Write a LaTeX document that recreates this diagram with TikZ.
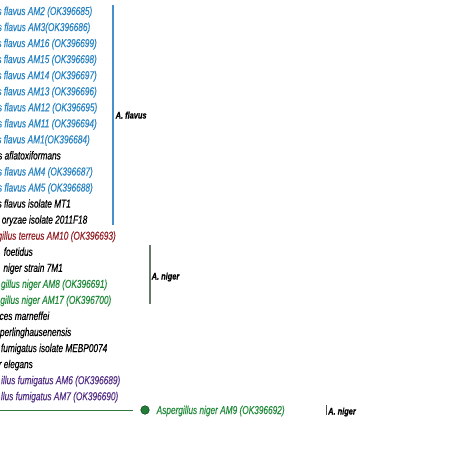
\documentclass[tikz,border=0pt]{standalone}
\usepackage{fontspec}
\newfontfamily\narrowsans{Liberation Sans}[FakeStretch=0.72,FakeBold=0.35]
\newfontfamily\narrowbold{Liberation Sans}[FakeStretch=0.78,FakeBold=0.6]
\definecolor{tblue}{RGB}{40,132,195}
\definecolor{lblue}{RGB}{70,145,205}
\definecolor{tred}{RGB}{150,35,40}
\definecolor{tgreen}{RGB}{35,140,60}
\definecolor{tpurple}{RGB}{85,50,135}
\definecolor{lgrey}{RGB}{105,120,105}
\definecolor{lgreen}{RGB}{45,120,65}
\tikzset{
  taxon/.style={anchor=base east, inner sep=0pt, font=\narrowsans\fontsize{11.5}{11.5}\selectfont\itshape},
  taxonw/.style={taxon, anchor=base west},
  clade/.style={anchor=base west, inner sep=0pt, font=\narrowbold\fontsize{9.5}{9.5}\selectfont\bfseries\itshape, text=black},
}
\begin{document}
\begin{tikzpicture}[x=1pt,y=-1pt]
\useasboundingbox (0,0) rectangle (474,474);
\fill[white] (0,0) rectangle (474,474);
\def\rs{16.05}
\node[taxon,text=tblue] (r1) at (92.5,15) {s flavus AM2 (OK396685)};
\node[taxon,text=tblue] (r2) at (90.5,{15+1*\rs}) {s flavus AM3(OK396686)};
\node[taxon,text=tblue] (r3) at (97,{15+2*\rs}) {s flavus AM16 (OK396699)};
\node[taxon,text=tblue] (r4) at (97,{15+3*\rs}) {s flavus AM15 (OK396698)};
\node[taxon,text=tblue] (r5) at (97,{15+4*\rs}) {s flavus AM14 (OK396697)};
\node[taxon,text=tblue] (r6) at (97,{15+5*\rs}) {s flavus AM13 (OK396696)};
\node[taxon,text=tblue] (r7) at (97.5,{15+6*\rs}) {s flavus AM12 (OK396695)};
\node[taxon,text=tblue] (r8) at (97,{15+7*\rs}) {s flavus AM11 (OK396694)};
\node[taxon,text=tblue] (r9) at (90,{15+8*\rs}) {s flavus AM1(OK396684)};
\node[taxon,text=black] (r10) at (61,{15+9*\rs}) {s aflatoxiformans};
\node[taxon,text=tblue] (r11) at (93,{15+10*\rs}) {s flavus AM4 (OK396687)};
\node[taxon,text=tblue] (r12) at (93,{15+11*\rs}) {s flavus AM5 (OK396688)};
\node[taxon,text=black] (r13) at (71,{15+12*\rs}) {s flavus isolate MT1};
\node[taxon,text=black] (r14) at (87.5,{15+13*\rs}) {s oryzae isolate 2011F18};
\node[taxon,text=tred] (r15) at (116,{15+14*\rs}) {gillus terreus AM10 (OK396693)};
\node[taxon,text=black] (r16) at (33,{15+15*\rs}) {foetidus};
\node[taxon,text=black] (r17) at (63,{15+16*\rs}) {niger strain 7M1};
\node[taxon,text=tgreen] (r18) at (107.5,{15+17*\rs}) {gillus niger AM8 (OK396691)};
\node[taxon,text=tgreen] (r19) at (111.5,{15+18*\rs}) {gillus niger AM17 (OK396700)};
\node[taxon,text=black] (r20) at (49.5,{15+19*\rs}) {ces marneffei};
\node[taxon,text=black] (r21) at (71.5,{15+20*\rs}) {perlinghausenensis};
\node[taxon,text=black] (r22) at (107.5,{15+21*\rs}) {fumigatus isolate MEBP0074};
\node[taxon,text=black] (r23) at (33,{15+22*\rs}) {r elegans};
\node[taxon,text=tpurple] (r24) at (120.5,{15+23*\rs}) {illus fumigatus AM6 (OK396689)};
\node[taxon,text=tpurple] (r25) at (118.5,{15+24*\rs}) {llus fumigatus AM7 (OK396690)};
% bottom branch
\coordinate (b0) at (0,410);
\node[circle, fill=tgreen!90!black, draw=tgreen!55!black, line width=0.6pt, minimum size=8.5pt, inner sep=0pt] (dot) at (145,410) {};
\draw[lgreen, line width=1pt] (b0) -- (133,410);
\node[taxonw,text=tgreen] (r26) at (156.5,414) {Aspergillus niger AM9 (OK396692)};
% clade bars
\coordinate (f1) at (113,5);
\coordinate (f2) at (113,225);
\draw[lblue, line width=1.1pt] (f1) -- (f2);
\node[clade] (lf) at (115.5,118.5) {A. flavus};
\coordinate (n1) at (150,245);
\coordinate (n2) at (150,304);
\draw[lgrey, line width=1.1pt] (n1) -- (n2);
\node[clade] (ln) at (151.5,279.5) {A. niger};
\coordinate (m1) at (326.5,405);
\coordinate (m2) at (326.5,415);
\draw[black!70, line width=0.7pt] (m1) -- (m2);
\node[clade] (lm) at (328,414.5) {A. niger};
\end{tikzpicture}
\end{document}
